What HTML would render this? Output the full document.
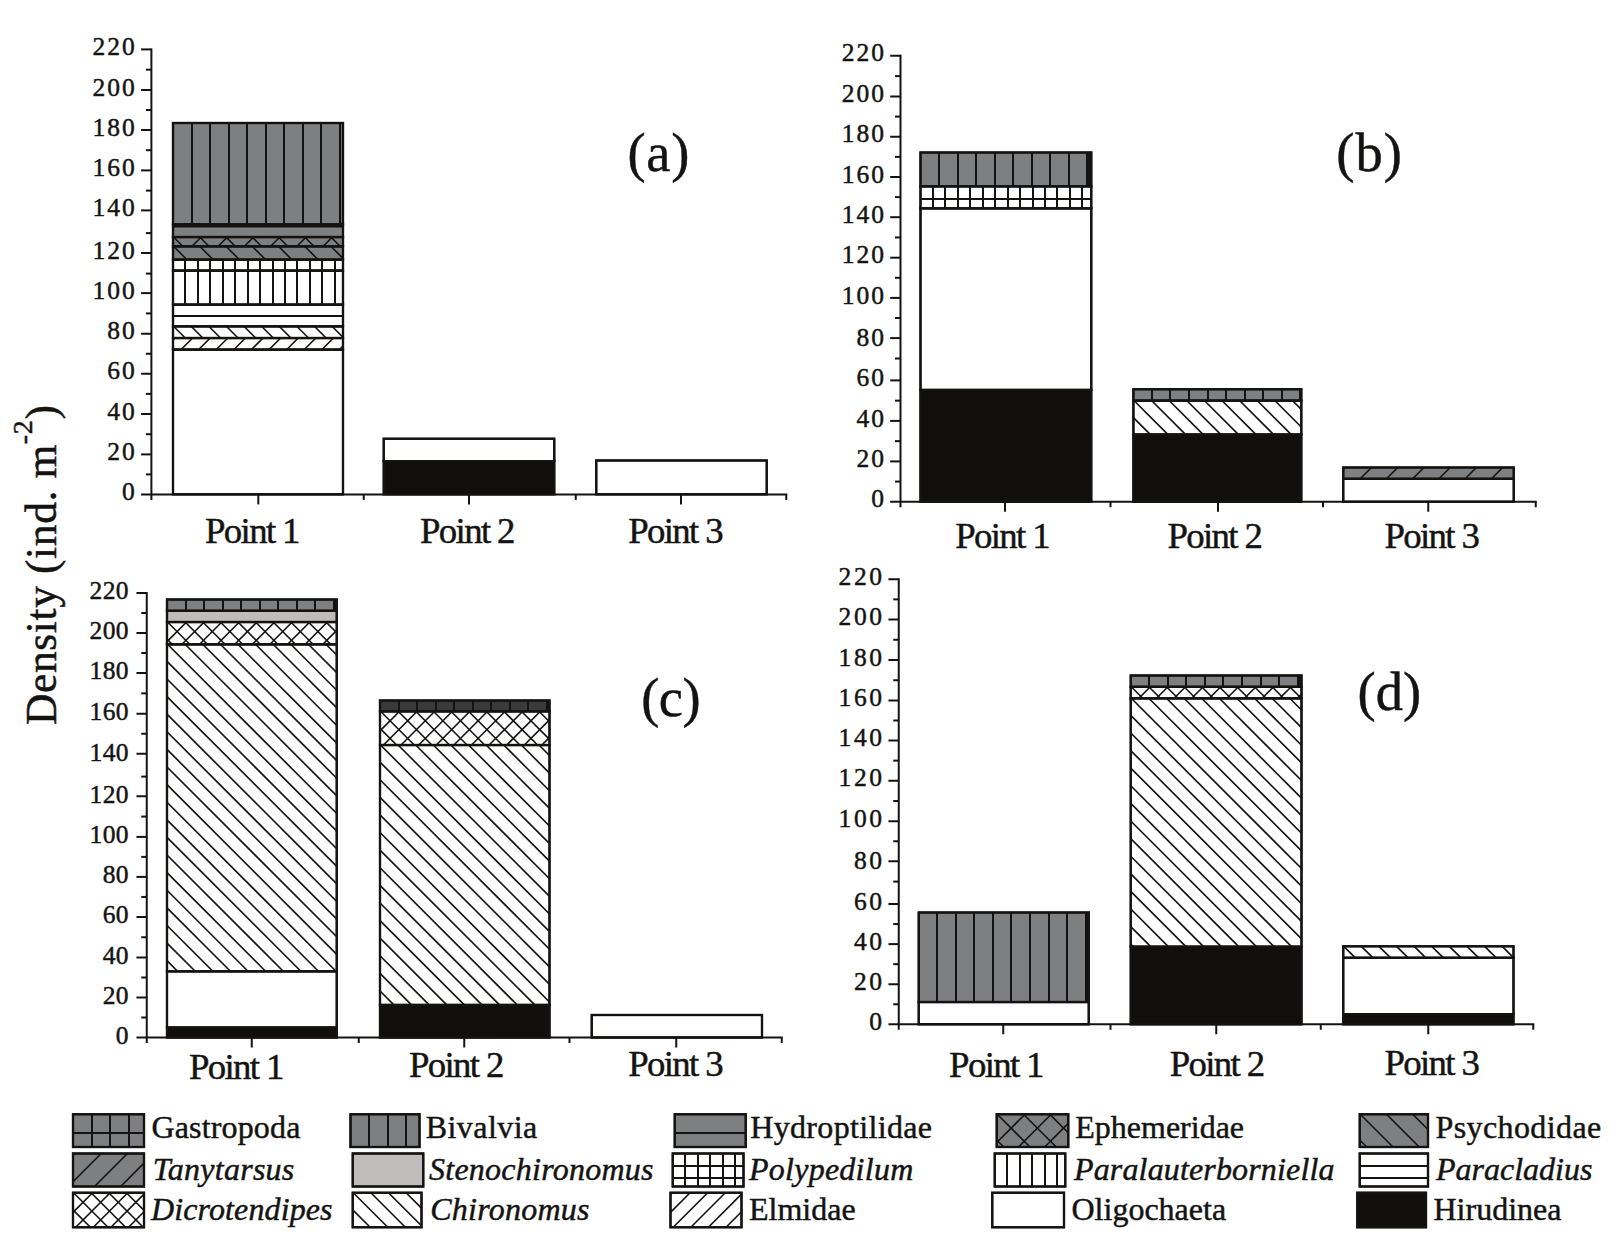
<!DOCTYPE html>
<html lang="en">
<head>
<meta charset="utf-8">
<title>Density of benthic macroinvertebrates</title>
<style>
html,body{margin:0;padding:0;background:#fff;}
svg{display:block;}
text{font-family:"Liberation Serif",serif;fill:#141312;stroke:#141312;stroke-width:0.45px;}
</style>
</head>
<body>
<svg width="1616" height="1248" viewBox="0 0 1616 1248">
<rect x="0" y="0" width="1616" height="1248" fill="#fff"/>
<rect x="173" y="349.5" width="170" height="144.75" fill="#fff" stroke="#141312" stroke-width="2.2"/>
<rect x="173" y="349.5" width="170" height="144.75" fill="none" stroke="#141312" stroke-width="2.2"/>
<rect x="173" y="338" width="170" height="11.5" fill="#fff" stroke="#141312" stroke-width="2.2"/>
<line x1="173" y1="340" x2="175" y2="338" stroke="#141312" stroke-width="1.65"/>
<line x1="181.11" y1="349.5" x2="192.61" y2="338" stroke="#141312" stroke-width="1.65"/>
<line x1="198.71" y1="349.5" x2="210.21" y2="338" stroke="#141312" stroke-width="1.65"/>
<line x1="216.32" y1="349.5" x2="227.82" y2="338" stroke="#141312" stroke-width="1.65"/>
<line x1="233.93" y1="349.5" x2="245.43" y2="338" stroke="#141312" stroke-width="1.65"/>
<line x1="251.53" y1="349.5" x2="263.03" y2="338" stroke="#141312" stroke-width="1.65"/>
<line x1="269.14" y1="349.5" x2="280.64" y2="338" stroke="#141312" stroke-width="1.65"/>
<line x1="286.75" y1="349.5" x2="298.25" y2="338" stroke="#141312" stroke-width="1.65"/>
<line x1="304.36" y1="349.5" x2="315.86" y2="338" stroke="#141312" stroke-width="1.65"/>
<line x1="321.96" y1="349.5" x2="333.46" y2="338" stroke="#141312" stroke-width="1.65"/>
<line x1="339.57" y1="349.5" x2="343" y2="346.07" stroke="#141312" stroke-width="1.65"/>
<rect x="173" y="338" width="170" height="11.5" fill="none" stroke="#141312" stroke-width="2.2"/>
<rect x="173" y="326.25" width="170" height="11.75" fill="#fff" stroke="#141312" stroke-width="2.2"/>
<line x1="331.96" y1="326.25" x2="343" y2="337.29" stroke="#141312" stroke-width="1.65"/>
<line x1="314.36" y1="326.25" x2="326.11" y2="338" stroke="#141312" stroke-width="1.65"/>
<line x1="296.75" y1="326.25" x2="308.5" y2="338" stroke="#141312" stroke-width="1.65"/>
<line x1="279.14" y1="326.25" x2="290.89" y2="338" stroke="#141312" stroke-width="1.65"/>
<line x1="261.53" y1="326.25" x2="273.28" y2="338" stroke="#141312" stroke-width="1.65"/>
<line x1="243.93" y1="326.25" x2="255.68" y2="338" stroke="#141312" stroke-width="1.65"/>
<line x1="226.32" y1="326.25" x2="238.07" y2="338" stroke="#141312" stroke-width="1.65"/>
<line x1="208.71" y1="326.25" x2="220.46" y2="338" stroke="#141312" stroke-width="1.65"/>
<line x1="191.11" y1="326.25" x2="202.86" y2="338" stroke="#141312" stroke-width="1.65"/>
<line x1="173.5" y1="326.25" x2="185.25" y2="338" stroke="#141312" stroke-width="1.65"/>
<rect x="173" y="326.25" width="170" height="11.75" fill="none" stroke="#141312" stroke-width="2.2"/>
<rect x="173" y="304.5" width="170" height="21.75" fill="#fff" stroke="#141312" stroke-width="2.2"/>
<line x1="173" y1="316" x2="343" y2="316" stroke="#141312" stroke-width="2"/>
<rect x="173" y="304.5" width="170" height="21.75" fill="none" stroke="#141312" stroke-width="2.2"/>
<rect x="173" y="270.5" width="170" height="34" fill="#fff" stroke="#141312" stroke-width="2.2"/>
<line x1="185" y1="270.5" x2="185" y2="304.5" stroke="#141312" stroke-width="2"/>
<line x1="198" y1="270.5" x2="198" y2="304.5" stroke="#141312" stroke-width="2"/>
<line x1="210" y1="270.5" x2="210" y2="304.5" stroke="#141312" stroke-width="2"/>
<line x1="223" y1="270.5" x2="223" y2="304.5" stroke="#141312" stroke-width="2"/>
<line x1="235" y1="270.5" x2="235" y2="304.5" stroke="#141312" stroke-width="2"/>
<line x1="248" y1="270.5" x2="248" y2="304.5" stroke="#141312" stroke-width="2"/>
<line x1="260" y1="270.5" x2="260" y2="304.5" stroke="#141312" stroke-width="2"/>
<line x1="273" y1="270.5" x2="273" y2="304.5" stroke="#141312" stroke-width="2"/>
<line x1="285" y1="270.5" x2="285" y2="304.5" stroke="#141312" stroke-width="2"/>
<line x1="297" y1="270.5" x2="297" y2="304.5" stroke="#141312" stroke-width="2"/>
<line x1="310" y1="270.5" x2="310" y2="304.5" stroke="#141312" stroke-width="2"/>
<line x1="322" y1="270.5" x2="322" y2="304.5" stroke="#141312" stroke-width="2"/>
<line x1="335" y1="270.5" x2="335" y2="304.5" stroke="#141312" stroke-width="2"/>
<rect x="173" y="270.5" width="170" height="34" fill="none" stroke="#141312" stroke-width="2.2"/>
<rect x="173" y="259.5" width="170" height="11" fill="#fff" stroke="#141312" stroke-width="2.2"/>
<line x1="185" y1="259.5" x2="185" y2="270.5" stroke="#141312" stroke-width="2"/>
<line x1="198" y1="259.5" x2="198" y2="270.5" stroke="#141312" stroke-width="2"/>
<line x1="210" y1="259.5" x2="210" y2="270.5" stroke="#141312" stroke-width="2"/>
<line x1="223" y1="259.5" x2="223" y2="270.5" stroke="#141312" stroke-width="2"/>
<line x1="235" y1="259.5" x2="235" y2="270.5" stroke="#141312" stroke-width="2"/>
<line x1="248" y1="259.5" x2="248" y2="270.5" stroke="#141312" stroke-width="2"/>
<line x1="260" y1="259.5" x2="260" y2="270.5" stroke="#141312" stroke-width="2"/>
<line x1="273" y1="259.5" x2="273" y2="270.5" stroke="#141312" stroke-width="2"/>
<line x1="285" y1="259.5" x2="285" y2="270.5" stroke="#141312" stroke-width="2"/>
<line x1="297" y1="259.5" x2="297" y2="270.5" stroke="#141312" stroke-width="2"/>
<line x1="310" y1="259.5" x2="310" y2="270.5" stroke="#141312" stroke-width="2"/>
<line x1="322" y1="259.5" x2="322" y2="270.5" stroke="#141312" stroke-width="2"/>
<line x1="335" y1="259.5" x2="335" y2="270.5" stroke="#141312" stroke-width="2"/>
<rect x="173" y="259.5" width="170" height="11" fill="none" stroke="#141312" stroke-width="2.2"/>
<rect x="173" y="246.25" width="170" height="13.25" fill="#7e7f81" stroke="#141312" stroke-width="2.2"/>
<line x1="330.9" y1="246.25" x2="343" y2="258.35" stroke="#141312" stroke-width="1.65"/>
<line x1="304.67" y1="246.25" x2="317.92" y2="259.5" stroke="#141312" stroke-width="1.65"/>
<line x1="278.43" y1="246.25" x2="291.68" y2="259.5" stroke="#141312" stroke-width="1.65"/>
<line x1="252.2" y1="246.25" x2="265.45" y2="259.5" stroke="#141312" stroke-width="1.65"/>
<line x1="225.97" y1="246.25" x2="239.22" y2="259.5" stroke="#141312" stroke-width="1.65"/>
<line x1="199.73" y1="246.25" x2="212.98" y2="259.5" stroke="#141312" stroke-width="1.65"/>
<line x1="173.5" y1="246.25" x2="186.75" y2="259.5" stroke="#141312" stroke-width="1.65"/>
<rect x="173" y="246.25" width="170" height="13.25" fill="none" stroke="#141312" stroke-width="2.2"/>
<rect x="173" y="237" width="170" height="9.25" fill="#7e7f81" stroke="#141312" stroke-width="2.2"/>
<line x1="330.9" y1="237" x2="340.15" y2="246.25" stroke="#141312" stroke-width="1.65"/>
<line x1="304.67" y1="237" x2="313.92" y2="246.25" stroke="#141312" stroke-width="1.65"/>
<line x1="278.43" y1="237" x2="287.68" y2="246.25" stroke="#141312" stroke-width="1.65"/>
<line x1="252.2" y1="237" x2="261.45" y2="246.25" stroke="#141312" stroke-width="1.65"/>
<line x1="225.97" y1="237" x2="235.22" y2="246.25" stroke="#141312" stroke-width="1.65"/>
<line x1="199.73" y1="237" x2="208.98" y2="246.25" stroke="#141312" stroke-width="1.65"/>
<line x1="173.5" y1="237" x2="182.75" y2="246.25" stroke="#141312" stroke-width="1.65"/>
<line x1="173" y1="239" x2="175" y2="237" stroke="#141312" stroke-width="1.65"/>
<line x1="191.98" y1="246.25" x2="201.23" y2="237" stroke="#141312" stroke-width="1.65"/>
<line x1="218.22" y1="246.25" x2="227.47" y2="237" stroke="#141312" stroke-width="1.65"/>
<line x1="244.45" y1="246.25" x2="253.7" y2="237" stroke="#141312" stroke-width="1.65"/>
<line x1="270.68" y1="246.25" x2="279.93" y2="237" stroke="#141312" stroke-width="1.65"/>
<line x1="296.92" y1="246.25" x2="306.17" y2="237" stroke="#141312" stroke-width="1.65"/>
<line x1="323.15" y1="246.25" x2="332.4" y2="237" stroke="#141312" stroke-width="1.65"/>
<rect x="173" y="237" width="170" height="9.25" fill="none" stroke="#141312" stroke-width="2.2"/>
<rect x="173" y="224.5" width="170" height="12.5" fill="#7e7f81" stroke="#141312" stroke-width="2.2"/>
<rect x="173" y="224.5" width="170" height="12.5" fill="none" stroke="#141312" stroke-width="2.2"/>
<rect x="173" y="123" width="170" height="101.5" fill="#7e7f81" stroke="#141312" stroke-width="2.2"/>
<line x1="192" y1="123" x2="192" y2="224.5" stroke="#141312" stroke-width="2"/>
<line x1="210" y1="123" x2="210" y2="224.5" stroke="#141312" stroke-width="2"/>
<line x1="229" y1="123" x2="229" y2="224.5" stroke="#141312" stroke-width="2"/>
<line x1="247" y1="123" x2="247" y2="224.5" stroke="#141312" stroke-width="2"/>
<line x1="266" y1="123" x2="266" y2="224.5" stroke="#141312" stroke-width="2"/>
<line x1="284" y1="123" x2="284" y2="224.5" stroke="#141312" stroke-width="2"/>
<line x1="303" y1="123" x2="303" y2="224.5" stroke="#141312" stroke-width="2"/>
<line x1="321" y1="123" x2="321" y2="224.5" stroke="#141312" stroke-width="2"/>
<line x1="340" y1="123" x2="340" y2="224.5" stroke="#141312" stroke-width="2"/>
<rect x="173" y="123" width="170" height="101.5" fill="none" stroke="#141312" stroke-width="2.2"/>
<line x1="172" y1="225.3" x2="344" y2="225.3" stroke="#141312" stroke-width="4.2"/>
<rect x="383.75" y="438.75" width="170.5" height="22.35" fill="#fff" stroke="#141312" stroke-width="2.2"/>
<rect x="383.75" y="438.75" width="170.5" height="22.35" fill="none" stroke="#141312" stroke-width="2.2"/>
<rect x="383.75" y="461.1" width="170.5" height="33.15" fill="#100f0d" stroke="#141312" stroke-width="2.2"/>
<rect x="383.75" y="461.1" width="170.5" height="33.15" fill="none" stroke="#141312" stroke-width="2.2"/>
<rect x="596.25" y="460.5" width="170.5" height="33.75" fill="#fff" stroke="#141312" stroke-width="2.2"/>
<rect x="596.25" y="460.5" width="170.5" height="33.75" fill="none" stroke="#141312" stroke-width="2.2"/>
<line x1="151.4" y1="48.4" x2="151.4" y2="499.9" stroke="#141312" stroke-width="2"/>
<line x1="141.1" y1="494.4" x2="787.25" y2="494.4" stroke="#141312" stroke-width="2"/>
<text x="136.65" y="500.1" font-size="25.5" text-anchor="end" letter-spacing="2">0</text>
<line x1="141.1" y1="454.4" x2="151.4" y2="454.4" stroke="#141312" stroke-width="2"/>
<line x1="145.9" y1="474.4" x2="151.4" y2="474.4" stroke="#141312" stroke-width="2"/>
<text x="136.65" y="460.1" font-size="25.5" text-anchor="end" letter-spacing="2">20</text>
<line x1="141.1" y1="414" x2="151.4" y2="414" stroke="#141312" stroke-width="2"/>
<line x1="145.9" y1="434.2" x2="151.4" y2="434.2" stroke="#141312" stroke-width="2"/>
<text x="136.65" y="419.7" font-size="25.5" text-anchor="end" letter-spacing="2">40</text>
<line x1="141.1" y1="373.75" x2="151.4" y2="373.75" stroke="#141312" stroke-width="2"/>
<line x1="145.9" y1="393.88" x2="151.4" y2="393.88" stroke="#141312" stroke-width="2"/>
<text x="136.65" y="379.45" font-size="25.5" text-anchor="end" letter-spacing="2">60</text>
<line x1="141.1" y1="333.75" x2="151.4" y2="333.75" stroke="#141312" stroke-width="2"/>
<line x1="145.9" y1="353.75" x2="151.4" y2="353.75" stroke="#141312" stroke-width="2"/>
<text x="136.65" y="339.45" font-size="25.5" text-anchor="end" letter-spacing="2">80</text>
<line x1="141.1" y1="293.1" x2="151.4" y2="293.1" stroke="#141312" stroke-width="2"/>
<line x1="145.9" y1="313.43" x2="151.4" y2="313.43" stroke="#141312" stroke-width="2"/>
<text x="136.65" y="298.8" font-size="25.5" text-anchor="end" letter-spacing="2">100</text>
<line x1="141.1" y1="253" x2="151.4" y2="253" stroke="#141312" stroke-width="2"/>
<line x1="145.9" y1="273.6" x2="151.4" y2="273.6" stroke="#141312" stroke-width="2"/>
<text x="136.65" y="258.7" font-size="25.5" text-anchor="end" letter-spacing="2">120</text>
<line x1="141.1" y1="210.4" x2="151.4" y2="210.4" stroke="#141312" stroke-width="2"/>
<line x1="145.9" y1="233.1" x2="151.4" y2="233.1" stroke="#141312" stroke-width="2"/>
<text x="136.65" y="216.1" font-size="25.5" text-anchor="end" letter-spacing="2">140</text>
<line x1="141.1" y1="170.4" x2="151.4" y2="170.4" stroke="#141312" stroke-width="2"/>
<line x1="145.9" y1="190.6" x2="151.4" y2="190.6" stroke="#141312" stroke-width="2"/>
<text x="136.65" y="176.1" font-size="25.5" text-anchor="end" letter-spacing="2">160</text>
<line x1="141.1" y1="130" x2="151.4" y2="130" stroke="#141312" stroke-width="2"/>
<line x1="145.9" y1="150.2" x2="151.4" y2="150.2" stroke="#141312" stroke-width="2"/>
<text x="136.65" y="135.7" font-size="25.5" text-anchor="end" letter-spacing="2">180</text>
<line x1="141.1" y1="90" x2="151.4" y2="90" stroke="#141312" stroke-width="2"/>
<line x1="145.9" y1="110" x2="151.4" y2="110" stroke="#141312" stroke-width="2"/>
<text x="136.65" y="95.7" font-size="25.5" text-anchor="end" letter-spacing="2">200</text>
<line x1="141.1" y1="49.4" x2="151.4" y2="49.4" stroke="#141312" stroke-width="2"/>
<line x1="145.9" y1="69.7" x2="151.4" y2="69.7" stroke="#141312" stroke-width="2"/>
<text x="136.65" y="55.1" font-size="25.5" text-anchor="end" letter-spacing="2">220</text>
<line x1="258.3" y1="494.4" x2="258.3" y2="504.4" stroke="#141312" stroke-width="2"/>
<line x1="363.75" y1="494.4" x2="363.75" y2="499.9" stroke="#141312" stroke-width="2"/>
<line x1="469" y1="494.4" x2="469" y2="504.4" stroke="#141312" stroke-width="2"/>
<line x1="575.75" y1="494.4" x2="575.75" y2="499.9" stroke="#141312" stroke-width="2"/>
<line x1="681" y1="494.4" x2="681" y2="504.4" stroke="#141312" stroke-width="2"/>
<line x1="786.25" y1="494.4" x2="786.25" y2="499.9" stroke="#141312" stroke-width="2"/>
<text x="205" y="543.1" font-size="36.8" letter-spacing="-1.65">Point 1</text>
<text x="420" y="543.1" font-size="36.8" letter-spacing="-1.65">Point 2</text>
<text x="628.15" y="542.7" font-size="36.8" letter-spacing="-1.65">Point 3</text>
<text x="627.5" y="171.25" font-size="54.5" letter-spacing="0.7">(a)</text>
<rect x="920.5" y="389.9" width="170.75" height="111.85" fill="#100f0d" stroke="#141312" stroke-width="2.2"/>
<rect x="920.5" y="389.9" width="170.75" height="111.85" fill="none" stroke="#141312" stroke-width="2.2"/>
<rect x="920.5" y="208.25" width="170.75" height="181.65" fill="#fff" stroke="#141312" stroke-width="2.2"/>
<rect x="920.5" y="208.25" width="170.75" height="181.65" fill="none" stroke="#141312" stroke-width="2.2"/>
<rect x="920.5" y="186.25" width="170.75" height="22" fill="#fff" stroke="#141312" stroke-width="2.2"/>
<line x1="933" y1="186.25" x2="933" y2="208.25" stroke="#141312" stroke-width="2"/>
<line x1="945" y1="186.25" x2="945" y2="208.25" stroke="#141312" stroke-width="2"/>
<line x1="958" y1="186.25" x2="958" y2="208.25" stroke="#141312" stroke-width="2"/>
<line x1="970" y1="186.25" x2="970" y2="208.25" stroke="#141312" stroke-width="2"/>
<line x1="983" y1="186.25" x2="983" y2="208.25" stroke="#141312" stroke-width="2"/>
<line x1="995" y1="186.25" x2="995" y2="208.25" stroke="#141312" stroke-width="2"/>
<line x1="1008" y1="186.25" x2="1008" y2="208.25" stroke="#141312" stroke-width="2"/>
<line x1="1020" y1="186.25" x2="1020" y2="208.25" stroke="#141312" stroke-width="2"/>
<line x1="1033" y1="186.25" x2="1033" y2="208.25" stroke="#141312" stroke-width="2"/>
<line x1="1045" y1="186.25" x2="1045" y2="208.25" stroke="#141312" stroke-width="2"/>
<line x1="1057" y1="186.25" x2="1057" y2="208.25" stroke="#141312" stroke-width="2"/>
<line x1="1070" y1="186.25" x2="1070" y2="208.25" stroke="#141312" stroke-width="2"/>
<line x1="1082" y1="186.25" x2="1082" y2="208.25" stroke="#141312" stroke-width="2"/>
<line x1="920.5" y1="199" x2="1091.25" y2="199" stroke="#141312" stroke-width="2"/>
<rect x="920.5" y="186.25" width="170.75" height="22" fill="none" stroke="#141312" stroke-width="2.2"/>
<rect x="920.5" y="152.5" width="170.75" height="33.75" fill="#7e7f81" stroke="#141312" stroke-width="2.2"/>
<line x1="939" y1="152.5" x2="939" y2="186.25" stroke="#141312" stroke-width="2"/>
<line x1="958" y1="152.5" x2="958" y2="186.25" stroke="#141312" stroke-width="2"/>
<line x1="976" y1="152.5" x2="976" y2="186.25" stroke="#141312" stroke-width="2"/>
<line x1="995" y1="152.5" x2="995" y2="186.25" stroke="#141312" stroke-width="2"/>
<line x1="1013" y1="152.5" x2="1013" y2="186.25" stroke="#141312" stroke-width="2"/>
<line x1="1032" y1="152.5" x2="1032" y2="186.25" stroke="#141312" stroke-width="2"/>
<line x1="1050" y1="152.5" x2="1050" y2="186.25" stroke="#141312" stroke-width="2"/>
<line x1="1069" y1="152.5" x2="1069" y2="186.25" stroke="#141312" stroke-width="2"/>
<line x1="1087" y1="152.5" x2="1087" y2="186.25" stroke="#141312" stroke-width="2"/>
<line x1="1089.35" y1="152.5" x2="1089.35" y2="186.25" stroke="#141312" stroke-width="3.8"/>
<rect x="920.5" y="152.5" width="170.75" height="33.75" fill="none" stroke="#141312" stroke-width="2.2"/>
<rect x="1133.4" y="434.4" width="167.9" height="67.35" fill="#100f0d" stroke="#141312" stroke-width="2.2"/>
<rect x="1133.4" y="434.4" width="167.9" height="67.35" fill="none" stroke="#141312" stroke-width="2.2"/>
<rect x="1133.4" y="400.5" width="167.9" height="33.9" fill="#fff" stroke="#141312" stroke-width="2.2"/>
<line x1="1292.36" y1="400.5" x2="1301.3" y2="409.44" stroke="#141312" stroke-width="1.65"/>
<line x1="1274.76" y1="400.5" x2="1301.3" y2="427.04" stroke="#141312" stroke-width="1.65"/>
<line x1="1257.15" y1="400.5" x2="1291.05" y2="434.4" stroke="#141312" stroke-width="1.65"/>
<line x1="1239.54" y1="400.5" x2="1273.44" y2="434.4" stroke="#141312" stroke-width="1.65"/>
<line x1="1221.93" y1="400.5" x2="1255.83" y2="434.4" stroke="#141312" stroke-width="1.65"/>
<line x1="1204.33" y1="400.5" x2="1238.23" y2="434.4" stroke="#141312" stroke-width="1.65"/>
<line x1="1186.72" y1="400.5" x2="1220.62" y2="434.4" stroke="#141312" stroke-width="1.65"/>
<line x1="1169.11" y1="400.5" x2="1203.01" y2="434.4" stroke="#141312" stroke-width="1.65"/>
<line x1="1151.51" y1="400.5" x2="1185.41" y2="434.4" stroke="#141312" stroke-width="1.65"/>
<line x1="1133.9" y1="400.5" x2="1167.8" y2="434.4" stroke="#141312" stroke-width="1.65"/>
<line x1="1133.4" y1="417.61" x2="1150.19" y2="434.4" stroke="#141312" stroke-width="1.65"/>
<rect x="1133.4" y="400.5" width="167.9" height="33.9" fill="none" stroke="#141312" stroke-width="2.2"/>
<rect x="1133.4" y="389.25" width="167.9" height="11.25" fill="#7e7f81" stroke="#141312" stroke-width="2.2"/>
<line x1="1152" y1="389.25" x2="1152" y2="400.5" stroke="#141312" stroke-width="2"/>
<line x1="1170" y1="389.25" x2="1170" y2="400.5" stroke="#141312" stroke-width="2"/>
<line x1="1189" y1="389.25" x2="1189" y2="400.5" stroke="#141312" stroke-width="2"/>
<line x1="1208" y1="389.25" x2="1208" y2="400.5" stroke="#141312" stroke-width="2"/>
<line x1="1226" y1="389.25" x2="1226" y2="400.5" stroke="#141312" stroke-width="2"/>
<line x1="1245" y1="389.25" x2="1245" y2="400.5" stroke="#141312" stroke-width="2"/>
<line x1="1263" y1="389.25" x2="1263" y2="400.5" stroke="#141312" stroke-width="2"/>
<line x1="1282" y1="389.25" x2="1282" y2="400.5" stroke="#141312" stroke-width="2"/>
<line x1="1300" y1="389.25" x2="1300" y2="400.5" stroke="#141312" stroke-width="2"/>
<line x1="1300.83" y1="389.25" x2="1300.83" y2="400.5" stroke="#141312" stroke-width="0.95"/>
<rect x="1133.4" y="389.25" width="167.9" height="11.25" fill="none" stroke="#141312" stroke-width="2.2"/>
<rect x="1343.25" y="478.75" width="170.5" height="23" fill="#fff" stroke="#141312" stroke-width="2.2"/>
<rect x="1343.25" y="478.75" width="170.5" height="23" fill="none" stroke="#141312" stroke-width="2.2"/>
<rect x="1343.25" y="467.5" width="170.5" height="11.25" fill="#7e7f81" stroke="#141312" stroke-width="2.2"/>
<line x1="1343.25" y1="469.5" x2="1345.25" y2="467.5" stroke="#141312" stroke-width="1.65"/>
<line x1="1360.23" y1="478.75" x2="1371.48" y2="467.5" stroke="#141312" stroke-width="1.65"/>
<line x1="1386.47" y1="478.75" x2="1397.72" y2="467.5" stroke="#141312" stroke-width="1.65"/>
<line x1="1412.7" y1="478.75" x2="1423.95" y2="467.5" stroke="#141312" stroke-width="1.65"/>
<line x1="1438.93" y1="478.75" x2="1450.18" y2="467.5" stroke="#141312" stroke-width="1.65"/>
<line x1="1465.17" y1="478.75" x2="1476.42" y2="467.5" stroke="#141312" stroke-width="1.65"/>
<line x1="1491.4" y1="478.75" x2="1502.65" y2="467.5" stroke="#141312" stroke-width="1.65"/>
<rect x="1343.25" y="467.5" width="170.5" height="11.25" fill="none" stroke="#141312" stroke-width="2.2"/>
<line x1="900.5" y1="54.75" x2="900.5" y2="507.25" stroke="#141312" stroke-width="2"/>
<line x1="890.2" y1="501.75" x2="1536.75" y2="501.75" stroke="#141312" stroke-width="2"/>
<text x="886" y="507.45" font-size="25.5" text-anchor="end" letter-spacing="2">0</text>
<line x1="890.2" y1="461.4" x2="900.5" y2="461.4" stroke="#141312" stroke-width="2"/>
<line x1="895" y1="481.57" x2="900.5" y2="481.57" stroke="#141312" stroke-width="2"/>
<text x="886" y="467.1" font-size="25.5" text-anchor="end" letter-spacing="2">20</text>
<line x1="890.2" y1="420.9" x2="900.5" y2="420.9" stroke="#141312" stroke-width="2"/>
<line x1="895" y1="441.15" x2="900.5" y2="441.15" stroke="#141312" stroke-width="2"/>
<text x="886" y="426.6" font-size="25.5" text-anchor="end" letter-spacing="2">40</text>
<line x1="890.2" y1="380.4" x2="900.5" y2="380.4" stroke="#141312" stroke-width="2"/>
<line x1="895" y1="400.65" x2="900.5" y2="400.65" stroke="#141312" stroke-width="2"/>
<text x="886" y="386.1" font-size="25.5" text-anchor="end" letter-spacing="2">60</text>
<line x1="890.2" y1="338.1" x2="900.5" y2="338.1" stroke="#141312" stroke-width="2"/>
<line x1="895" y1="358.5" x2="900.5" y2="358.5" stroke="#141312" stroke-width="2"/>
<text x="886" y="346.1" font-size="25.5" text-anchor="end" letter-spacing="2">80</text>
<line x1="890.2" y1="297.9" x2="900.5" y2="297.9" stroke="#141312" stroke-width="2"/>
<line x1="895" y1="318" x2="900.5" y2="318" stroke="#141312" stroke-width="2"/>
<text x="886" y="303.6" font-size="25.5" text-anchor="end" letter-spacing="2">100</text>
<line x1="890.2" y1="257.7" x2="900.5" y2="257.7" stroke="#141312" stroke-width="2"/>
<line x1="895" y1="277.8" x2="900.5" y2="277.8" stroke="#141312" stroke-width="2"/>
<text x="886" y="263.4" font-size="25.5" text-anchor="end" letter-spacing="2">120</text>
<line x1="890.2" y1="217.2" x2="900.5" y2="217.2" stroke="#141312" stroke-width="2"/>
<line x1="895" y1="237.45" x2="900.5" y2="237.45" stroke="#141312" stroke-width="2"/>
<text x="886" y="222.9" font-size="25.5" text-anchor="end" letter-spacing="2">140</text>
<line x1="890.2" y1="177" x2="900.5" y2="177" stroke="#141312" stroke-width="2"/>
<line x1="895" y1="197.1" x2="900.5" y2="197.1" stroke="#141312" stroke-width="2"/>
<text x="886" y="182.7" font-size="25.5" text-anchor="end" letter-spacing="2">160</text>
<line x1="890.2" y1="136.75" x2="900.5" y2="136.75" stroke="#141312" stroke-width="2"/>
<line x1="895" y1="156.88" x2="900.5" y2="156.88" stroke="#141312" stroke-width="2"/>
<text x="886" y="142.45" font-size="25.5" text-anchor="end" letter-spacing="2">180</text>
<line x1="890.2" y1="96.5" x2="900.5" y2="96.5" stroke="#141312" stroke-width="2"/>
<line x1="895" y1="116.62" x2="900.5" y2="116.62" stroke="#141312" stroke-width="2"/>
<text x="886" y="102.2" font-size="25.5" text-anchor="end" letter-spacing="2">200</text>
<line x1="890.2" y1="55.75" x2="900.5" y2="55.75" stroke="#141312" stroke-width="2"/>
<line x1="895" y1="76.12" x2="900.5" y2="76.12" stroke="#141312" stroke-width="2"/>
<text x="886" y="61.45" font-size="25.5" text-anchor="end" letter-spacing="2">220</text>
<line x1="1005" y1="501.75" x2="1005" y2="511.75" stroke="#141312" stroke-width="2"/>
<line x1="1110.5" y1="501.75" x2="1110.5" y2="507.25" stroke="#141312" stroke-width="2"/>
<line x1="1218" y1="501.75" x2="1218" y2="511.75" stroke="#141312" stroke-width="2"/>
<line x1="1323" y1="501.75" x2="1323" y2="507.25" stroke="#141312" stroke-width="2"/>
<line x1="1428.25" y1="501.75" x2="1428.25" y2="511.75" stroke="#141312" stroke-width="2"/>
<line x1="1535.75" y1="501.75" x2="1535.75" y2="507.25" stroke="#141312" stroke-width="2"/>
<text x="955.15" y="547.5" font-size="36.8" letter-spacing="-1.65">Point 1</text>
<text x="1167.4" y="547.5" font-size="36.8" letter-spacing="-1.65">Point 2</text>
<text x="1384.4" y="547.5" font-size="36.8" letter-spacing="-1.65">Point 3</text>
<text x="1336.25" y="171.25" font-size="54.5" letter-spacing="1">(b)</text>
<rect x="167" y="1027.4" width="169.75" height="10.1" fill="#100f0d" stroke="#141312" stroke-width="2.2"/>
<rect x="167" y="1027.4" width="169.75" height="10.1" fill="none" stroke="#141312" stroke-width="2.2"/>
<rect x="167" y="971.25" width="169.75" height="56.15" fill="#fff" stroke="#141312" stroke-width="2.2"/>
<rect x="167" y="971.25" width="169.75" height="56.15" fill="none" stroke="#141312" stroke-width="2.2"/>
<rect x="167" y="644.25" width="169.75" height="327" fill="#fff" stroke="#141312" stroke-width="2.2"/>
<line x1="325.96" y1="644.25" x2="336.75" y2="655.04" stroke="#141312" stroke-width="1.65"/>
<line x1="308.36" y1="644.25" x2="336.75" y2="672.64" stroke="#141312" stroke-width="1.65"/>
<line x1="290.75" y1="644.25" x2="336.75" y2="690.25" stroke="#141312" stroke-width="1.65"/>
<line x1="273.14" y1="644.25" x2="336.75" y2="707.86" stroke="#141312" stroke-width="1.65"/>
<line x1="255.53" y1="644.25" x2="336.75" y2="725.47" stroke="#141312" stroke-width="1.65"/>
<line x1="237.93" y1="644.25" x2="336.75" y2="743.07" stroke="#141312" stroke-width="1.65"/>
<line x1="220.32" y1="644.25" x2="336.75" y2="760.68" stroke="#141312" stroke-width="1.65"/>
<line x1="202.71" y1="644.25" x2="336.75" y2="778.29" stroke="#141312" stroke-width="1.65"/>
<line x1="185.11" y1="644.25" x2="336.75" y2="795.89" stroke="#141312" stroke-width="1.65"/>
<line x1="167.5" y1="644.25" x2="336.75" y2="813.5" stroke="#141312" stroke-width="1.65"/>
<line x1="167" y1="661.36" x2="336.75" y2="831.11" stroke="#141312" stroke-width="1.65"/>
<line x1="167" y1="678.96" x2="336.75" y2="848.71" stroke="#141312" stroke-width="1.65"/>
<line x1="167" y1="696.57" x2="336.75" y2="866.32" stroke="#141312" stroke-width="1.65"/>
<line x1="167" y1="714.18" x2="336.75" y2="883.93" stroke="#141312" stroke-width="1.65"/>
<line x1="167" y1="731.78" x2="336.75" y2="901.53" stroke="#141312" stroke-width="1.65"/>
<line x1="167" y1="749.39" x2="336.75" y2="919.14" stroke="#141312" stroke-width="1.65"/>
<line x1="167" y1="767" x2="336.75" y2="936.75" stroke="#141312" stroke-width="1.65"/>
<line x1="167" y1="784.61" x2="336.75" y2="954.36" stroke="#141312" stroke-width="1.65"/>
<line x1="167" y1="802.21" x2="336.04" y2="971.25" stroke="#141312" stroke-width="1.65"/>
<line x1="167" y1="819.82" x2="318.43" y2="971.25" stroke="#141312" stroke-width="1.65"/>
<line x1="167" y1="837.43" x2="300.82" y2="971.25" stroke="#141312" stroke-width="1.65"/>
<line x1="167" y1="855.03" x2="283.22" y2="971.25" stroke="#141312" stroke-width="1.65"/>
<line x1="167" y1="872.64" x2="265.61" y2="971.25" stroke="#141312" stroke-width="1.65"/>
<line x1="167" y1="890.25" x2="248" y2="971.25" stroke="#141312" stroke-width="1.65"/>
<line x1="167" y1="907.85" x2="230.4" y2="971.25" stroke="#141312" stroke-width="1.65"/>
<line x1="167" y1="925.46" x2="212.79" y2="971.25" stroke="#141312" stroke-width="1.65"/>
<line x1="167" y1="943.07" x2="195.18" y2="971.25" stroke="#141312" stroke-width="1.65"/>
<line x1="167" y1="960.68" x2="177.57" y2="971.25" stroke="#141312" stroke-width="1.65"/>
<rect x="167" y="644.25" width="169.75" height="327" fill="none" stroke="#141312" stroke-width="2.2"/>
<rect x="167" y="622" width="169.75" height="22.25" fill="#fff" stroke="#141312" stroke-width="2.2"/>
<line x1="325.96" y1="622" x2="336.75" y2="632.79" stroke="#141312" stroke-width="1.65"/>
<line x1="308.36" y1="622" x2="330.61" y2="644.25" stroke="#141312" stroke-width="1.65"/>
<line x1="290.75" y1="622" x2="313" y2="644.25" stroke="#141312" stroke-width="1.65"/>
<line x1="273.14" y1="622" x2="295.39" y2="644.25" stroke="#141312" stroke-width="1.65"/>
<line x1="255.53" y1="622" x2="277.78" y2="644.25" stroke="#141312" stroke-width="1.65"/>
<line x1="237.93" y1="622" x2="260.18" y2="644.25" stroke="#141312" stroke-width="1.65"/>
<line x1="220.32" y1="622" x2="242.57" y2="644.25" stroke="#141312" stroke-width="1.65"/>
<line x1="202.71" y1="622" x2="224.96" y2="644.25" stroke="#141312" stroke-width="1.65"/>
<line x1="185.11" y1="622" x2="207.36" y2="644.25" stroke="#141312" stroke-width="1.65"/>
<line x1="167.5" y1="622" x2="189.75" y2="644.25" stroke="#141312" stroke-width="1.65"/>
<line x1="167" y1="639.11" x2="172.14" y2="644.25" stroke="#141312" stroke-width="1.65"/>
<line x1="167" y1="624" x2="169" y2="622" stroke="#141312" stroke-width="1.65"/>
<line x1="167" y1="641.61" x2="186.61" y2="622" stroke="#141312" stroke-width="1.65"/>
<line x1="181.96" y1="644.25" x2="204.21" y2="622" stroke="#141312" stroke-width="1.65"/>
<line x1="199.57" y1="644.25" x2="221.82" y2="622" stroke="#141312" stroke-width="1.65"/>
<line x1="217.18" y1="644.25" x2="239.43" y2="622" stroke="#141312" stroke-width="1.65"/>
<line x1="234.78" y1="644.25" x2="257.03" y2="622" stroke="#141312" stroke-width="1.65"/>
<line x1="252.39" y1="644.25" x2="274.64" y2="622" stroke="#141312" stroke-width="1.65"/>
<line x1="270" y1="644.25" x2="292.25" y2="622" stroke="#141312" stroke-width="1.65"/>
<line x1="287.61" y1="644.25" x2="309.86" y2="622" stroke="#141312" stroke-width="1.65"/>
<line x1="305.21" y1="644.25" x2="327.46" y2="622" stroke="#141312" stroke-width="1.65"/>
<line x1="322.82" y1="644.25" x2="336.75" y2="630.32" stroke="#141312" stroke-width="1.65"/>
<rect x="167" y="622" width="169.75" height="22.25" fill="none" stroke="#141312" stroke-width="2.2"/>
<rect x="167" y="610.75" width="169.75" height="11.25" fill="#bebdbb" stroke="#141312" stroke-width="2.2"/>
<rect x="167" y="610.75" width="169.75" height="11.25" fill="none" stroke="#141312" stroke-width="2.2"/>
<rect x="167" y="599.5" width="169.75" height="11.25" fill="#7e7f81" stroke="#141312" stroke-width="2.2"/>
<line x1="186" y1="599.5" x2="186" y2="610.75" stroke="#141312" stroke-width="2"/>
<line x1="204" y1="599.5" x2="204" y2="610.75" stroke="#141312" stroke-width="2"/>
<line x1="223" y1="599.5" x2="223" y2="610.75" stroke="#141312" stroke-width="2"/>
<line x1="241" y1="599.5" x2="241" y2="610.75" stroke="#141312" stroke-width="2"/>
<line x1="260" y1="599.5" x2="260" y2="610.75" stroke="#141312" stroke-width="2"/>
<line x1="278" y1="599.5" x2="278" y2="610.75" stroke="#141312" stroke-width="2"/>
<line x1="297" y1="599.5" x2="297" y2="610.75" stroke="#141312" stroke-width="2"/>
<line x1="315" y1="599.5" x2="315" y2="610.75" stroke="#141312" stroke-width="2"/>
<line x1="334" y1="599.5" x2="334" y2="610.75" stroke="#141312" stroke-width="2"/>
<line x1="335.35" y1="599.5" x2="335.35" y2="610.75" stroke="#141312" stroke-width="2.8"/>
<rect x="167" y="599.5" width="169.75" height="11.25" fill="none" stroke="#141312" stroke-width="2.2"/>
<rect x="380" y="1004.9" width="169.5" height="32.6" fill="#100f0d" stroke="#141312" stroke-width="2.2"/>
<rect x="380" y="1004.9" width="169.5" height="32.6" fill="none" stroke="#141312" stroke-width="2.2"/>
<rect x="380" y="745" width="169.5" height="259.9" fill="#fff" stroke="#141312" stroke-width="2.2"/>
<line x1="538.96" y1="745" x2="549.5" y2="755.54" stroke="#141312" stroke-width="1.65"/>
<line x1="521.36" y1="745" x2="549.5" y2="773.14" stroke="#141312" stroke-width="1.65"/>
<line x1="503.75" y1="745" x2="549.5" y2="790.75" stroke="#141312" stroke-width="1.65"/>
<line x1="486.14" y1="745" x2="549.5" y2="808.36" stroke="#141312" stroke-width="1.65"/>
<line x1="468.53" y1="745" x2="549.5" y2="825.97" stroke="#141312" stroke-width="1.65"/>
<line x1="450.93" y1="745" x2="549.5" y2="843.57" stroke="#141312" stroke-width="1.65"/>
<line x1="433.32" y1="745" x2="549.5" y2="861.18" stroke="#141312" stroke-width="1.65"/>
<line x1="415.71" y1="745" x2="549.5" y2="878.79" stroke="#141312" stroke-width="1.65"/>
<line x1="398.11" y1="745" x2="549.5" y2="896.39" stroke="#141312" stroke-width="1.65"/>
<line x1="380.5" y1="745" x2="549.5" y2="914" stroke="#141312" stroke-width="1.65"/>
<line x1="380" y1="762.11" x2="549.5" y2="931.61" stroke="#141312" stroke-width="1.65"/>
<line x1="380" y1="779.71" x2="549.5" y2="949.21" stroke="#141312" stroke-width="1.65"/>
<line x1="380" y1="797.32" x2="549.5" y2="966.82" stroke="#141312" stroke-width="1.65"/>
<line x1="380" y1="814.93" x2="549.5" y2="984.43" stroke="#141312" stroke-width="1.65"/>
<line x1="380" y1="832.53" x2="549.5" y2="1002.03" stroke="#141312" stroke-width="1.65"/>
<line x1="380" y1="850.14" x2="534.76" y2="1004.9" stroke="#141312" stroke-width="1.65"/>
<line x1="380" y1="867.75" x2="517.15" y2="1004.9" stroke="#141312" stroke-width="1.65"/>
<line x1="380" y1="885.36" x2="499.54" y2="1004.9" stroke="#141312" stroke-width="1.65"/>
<line x1="380" y1="902.96" x2="481.94" y2="1004.9" stroke="#141312" stroke-width="1.65"/>
<line x1="380" y1="920.57" x2="464.33" y2="1004.9" stroke="#141312" stroke-width="1.65"/>
<line x1="380" y1="938.18" x2="446.72" y2="1004.9" stroke="#141312" stroke-width="1.65"/>
<line x1="380" y1="955.78" x2="429.12" y2="1004.9" stroke="#141312" stroke-width="1.65"/>
<line x1="380" y1="973.39" x2="411.51" y2="1004.9" stroke="#141312" stroke-width="1.65"/>
<line x1="380" y1="991" x2="393.9" y2="1004.9" stroke="#141312" stroke-width="1.65"/>
<rect x="380" y="745" width="169.5" height="259.9" fill="none" stroke="#141312" stroke-width="2.2"/>
<rect x="380" y="711.25" width="169.5" height="33.75" fill="#fff" stroke="#141312" stroke-width="2.2"/>
<line x1="538.96" y1="711.25" x2="549.5" y2="721.79" stroke="#141312" stroke-width="1.65"/>
<line x1="521.36" y1="711.25" x2="549.5" y2="739.39" stroke="#141312" stroke-width="1.65"/>
<line x1="503.75" y1="711.25" x2="537.5" y2="745" stroke="#141312" stroke-width="1.65"/>
<line x1="486.14" y1="711.25" x2="519.89" y2="745" stroke="#141312" stroke-width="1.65"/>
<line x1="468.53" y1="711.25" x2="502.28" y2="745" stroke="#141312" stroke-width="1.65"/>
<line x1="450.93" y1="711.25" x2="484.68" y2="745" stroke="#141312" stroke-width="1.65"/>
<line x1="433.32" y1="711.25" x2="467.07" y2="745" stroke="#141312" stroke-width="1.65"/>
<line x1="415.71" y1="711.25" x2="449.46" y2="745" stroke="#141312" stroke-width="1.65"/>
<line x1="398.11" y1="711.25" x2="431.86" y2="745" stroke="#141312" stroke-width="1.65"/>
<line x1="380.5" y1="711.25" x2="414.25" y2="745" stroke="#141312" stroke-width="1.65"/>
<line x1="380" y1="728.36" x2="396.64" y2="745" stroke="#141312" stroke-width="1.65"/>
<line x1="380" y1="713.25" x2="382" y2="711.25" stroke="#141312" stroke-width="1.65"/>
<line x1="380" y1="730.86" x2="399.61" y2="711.25" stroke="#141312" stroke-width="1.65"/>
<line x1="383.46" y1="745" x2="417.21" y2="711.25" stroke="#141312" stroke-width="1.65"/>
<line x1="401.07" y1="745" x2="434.82" y2="711.25" stroke="#141312" stroke-width="1.65"/>
<line x1="418.68" y1="745" x2="452.43" y2="711.25" stroke="#141312" stroke-width="1.65"/>
<line x1="436.28" y1="745" x2="470.03" y2="711.25" stroke="#141312" stroke-width="1.65"/>
<line x1="453.89" y1="745" x2="487.64" y2="711.25" stroke="#141312" stroke-width="1.65"/>
<line x1="471.5" y1="745" x2="505.25" y2="711.25" stroke="#141312" stroke-width="1.65"/>
<line x1="489.11" y1="745" x2="522.86" y2="711.25" stroke="#141312" stroke-width="1.65"/>
<line x1="506.71" y1="745" x2="540.46" y2="711.25" stroke="#141312" stroke-width="1.65"/>
<line x1="524.32" y1="745" x2="549.5" y2="719.82" stroke="#141312" stroke-width="1.65"/>
<line x1="541.93" y1="745" x2="549.5" y2="737.43" stroke="#141312" stroke-width="1.65"/>
<rect x="380" y="711.25" width="169.5" height="33.75" fill="none" stroke="#141312" stroke-width="2.2"/>
<rect x="380" y="700.5" width="169.5" height="10.75" fill="#3a3a3a" stroke="#141312" stroke-width="2.2"/>
<line x1="399" y1="700.5" x2="399" y2="711.25" stroke="#141312" stroke-width="2"/>
<line x1="417" y1="700.5" x2="417" y2="711.25" stroke="#141312" stroke-width="2"/>
<line x1="436" y1="700.5" x2="436" y2="711.25" stroke="#141312" stroke-width="2"/>
<line x1="454" y1="700.5" x2="454" y2="711.25" stroke="#141312" stroke-width="2"/>
<line x1="473" y1="700.5" x2="473" y2="711.25" stroke="#141312" stroke-width="2"/>
<line x1="491" y1="700.5" x2="491" y2="711.25" stroke="#141312" stroke-width="2"/>
<line x1="510" y1="700.5" x2="510" y2="711.25" stroke="#141312" stroke-width="2"/>
<line x1="528" y1="700.5" x2="528" y2="711.25" stroke="#141312" stroke-width="2"/>
<line x1="547" y1="700.5" x2="547" y2="711.25" stroke="#141312" stroke-width="2"/>
<line x1="548.23" y1="700.5" x2="548.23" y2="711.25" stroke="#141312" stroke-width="2.55"/>
<rect x="380" y="700.5" width="169.5" height="10.75" fill="none" stroke="#141312" stroke-width="2.2"/>
<rect x="591.75" y="1015" width="170.25" height="22.5" fill="#fff" stroke="#141312" stroke-width="2.2"/>
<rect x="591.75" y="1015" width="170.25" height="22.5" fill="none" stroke="#141312" stroke-width="2.2"/>
<line x1="146.75" y1="592" x2="146.75" y2="1043" stroke="#141312" stroke-width="2"/>
<line x1="136.45" y1="1037.5" x2="782.75" y2="1037.5" stroke="#141312" stroke-width="2"/>
<text x="129" y="1043.8" font-size="25.5" text-anchor="end" letter-spacing="0.4">0</text>
<line x1="136.45" y1="997.5" x2="146.75" y2="997.5" stroke="#141312" stroke-width="2"/>
<line x1="141.25" y1="1017.5" x2="146.75" y2="1017.5" stroke="#141312" stroke-width="2"/>
<text x="129" y="1003.8" font-size="25.5" text-anchor="end" letter-spacing="0.4">20</text>
<line x1="136.45" y1="957.5" x2="146.75" y2="957.5" stroke="#141312" stroke-width="2"/>
<line x1="141.25" y1="977.5" x2="146.75" y2="977.5" stroke="#141312" stroke-width="2"/>
<text x="129" y="963.8" font-size="25.5" text-anchor="end" letter-spacing="0.4">40</text>
<line x1="136.45" y1="917" x2="146.75" y2="917" stroke="#141312" stroke-width="2"/>
<line x1="141.25" y1="937.25" x2="146.75" y2="937.25" stroke="#141312" stroke-width="2"/>
<text x="129" y="923.3" font-size="25.5" text-anchor="end" letter-spacing="0.4">60</text>
<line x1="136.45" y1="876.9" x2="146.75" y2="876.9" stroke="#141312" stroke-width="2"/>
<line x1="141.25" y1="896.95" x2="146.75" y2="896.95" stroke="#141312" stroke-width="2"/>
<text x="129" y="883.2" font-size="25.5" text-anchor="end" letter-spacing="0.4">80</text>
<line x1="136.45" y1="836.9" x2="146.75" y2="836.9" stroke="#141312" stroke-width="2"/>
<line x1="141.25" y1="856.9" x2="146.75" y2="856.9" stroke="#141312" stroke-width="2"/>
<text x="129" y="843.2" font-size="25.5" text-anchor="end" letter-spacing="0.4">100</text>
<line x1="136.45" y1="796.25" x2="146.75" y2="796.25" stroke="#141312" stroke-width="2"/>
<line x1="141.25" y1="816.58" x2="146.75" y2="816.58" stroke="#141312" stroke-width="2"/>
<text x="129" y="802.55" font-size="25.5" text-anchor="end" letter-spacing="0.4">120</text>
<line x1="136.45" y1="753.75" x2="146.75" y2="753.75" stroke="#141312" stroke-width="2"/>
<line x1="141.25" y1="776.6" x2="146.75" y2="776.6" stroke="#141312" stroke-width="2"/>
<text x="129" y="761.45" font-size="25.5" text-anchor="end" letter-spacing="0.4">140</text>
<line x1="136.45" y1="713.75" x2="146.75" y2="713.75" stroke="#141312" stroke-width="2"/>
<line x1="141.25" y1="733.75" x2="146.75" y2="733.75" stroke="#141312" stroke-width="2"/>
<text x="129" y="720.05" font-size="25.5" text-anchor="end" letter-spacing="0.4">160</text>
<line x1="136.45" y1="673" x2="146.75" y2="673" stroke="#141312" stroke-width="2"/>
<line x1="141.25" y1="693.38" x2="146.75" y2="693.38" stroke="#141312" stroke-width="2"/>
<text x="129" y="679.3" font-size="25.5" text-anchor="end" letter-spacing="0.4">180</text>
<line x1="136.45" y1="633" x2="146.75" y2="633" stroke="#141312" stroke-width="2"/>
<line x1="141.25" y1="653" x2="146.75" y2="653" stroke="#141312" stroke-width="2"/>
<text x="129" y="639.3" font-size="25.5" text-anchor="end" letter-spacing="0.4">200</text>
<line x1="136.45" y1="593" x2="146.75" y2="593" stroke="#141312" stroke-width="2"/>
<line x1="141.25" y1="613" x2="146.75" y2="613" stroke="#141312" stroke-width="2"/>
<text x="129" y="599.3" font-size="25.5" text-anchor="end" letter-spacing="0.4">220</text>
<line x1="251.75" y1="1037.5" x2="251.75" y2="1047.5" stroke="#141312" stroke-width="2"/>
<line x1="358.75" y1="1037.5" x2="358.75" y2="1043" stroke="#141312" stroke-width="2"/>
<line x1="464.25" y1="1037.5" x2="464.25" y2="1047.5" stroke="#141312" stroke-width="2"/>
<line x1="569.5" y1="1037.5" x2="569.5" y2="1043" stroke="#141312" stroke-width="2"/>
<line x1="676.25" y1="1037.5" x2="676.25" y2="1047.5" stroke="#141312" stroke-width="2"/>
<line x1="781.75" y1="1037.5" x2="781.75" y2="1043" stroke="#141312" stroke-width="2"/>
<text x="188.9" y="1079.3" font-size="36.8" letter-spacing="-1.65">Point 1</text>
<text x="408.9" y="1076.75" font-size="36.8" letter-spacing="-1.65">Point 2</text>
<text x="628.15" y="1076.2" font-size="36.8" letter-spacing="-1.65">Point 3</text>
<text x="641.25" y="716.4" font-size="54.5" letter-spacing="-0.6">(c)</text>
<rect x="918.75" y="1002" width="170" height="22.25" fill="#fff" stroke="#141312" stroke-width="2.2"/>
<rect x="918.75" y="1002" width="170" height="22.25" fill="none" stroke="#141312" stroke-width="2.2"/>
<rect x="918.75" y="912.5" width="170" height="89.5" fill="#7e7f81" stroke="#141312" stroke-width="2.2"/>
<line x1="937" y1="912.5" x2="937" y2="1002" stroke="#141312" stroke-width="2"/>
<line x1="956" y1="912.5" x2="956" y2="1002" stroke="#141312" stroke-width="2"/>
<line x1="974" y1="912.5" x2="974" y2="1002" stroke="#141312" stroke-width="2"/>
<line x1="993" y1="912.5" x2="993" y2="1002" stroke="#141312" stroke-width="2"/>
<line x1="1011" y1="912.5" x2="1011" y2="1002" stroke="#141312" stroke-width="2"/>
<line x1="1030" y1="912.5" x2="1030" y2="1002" stroke="#141312" stroke-width="2"/>
<line x1="1049" y1="912.5" x2="1049" y2="1002" stroke="#141312" stroke-width="2"/>
<line x1="1067" y1="912.5" x2="1067" y2="1002" stroke="#141312" stroke-width="2"/>
<line x1="1086" y1="912.5" x2="1086" y2="1002" stroke="#141312" stroke-width="2"/>
<line x1="1087.22" y1="912.5" x2="1087.22" y2="1002" stroke="#141312" stroke-width="3.05"/>
<rect x="918.75" y="912.5" width="170" height="89.5" fill="none" stroke="#141312" stroke-width="2.2"/>
<rect x="1130.75" y="946.6" width="170.75" height="77.65" fill="#100f0d" stroke="#141312" stroke-width="2.2"/>
<rect x="1130.75" y="946.6" width="170.75" height="77.65" fill="none" stroke="#141312" stroke-width="2.2"/>
<rect x="1130.75" y="698.25" width="170.75" height="248.35" fill="#fff" stroke="#141312" stroke-width="2.2"/>
<line x1="1289.71" y1="698.25" x2="1301.5" y2="710.04" stroke="#141312" stroke-width="1.65"/>
<line x1="1272.11" y1="698.25" x2="1301.5" y2="727.64" stroke="#141312" stroke-width="1.65"/>
<line x1="1254.5" y1="698.25" x2="1301.5" y2="745.25" stroke="#141312" stroke-width="1.65"/>
<line x1="1236.89" y1="698.25" x2="1301.5" y2="762.86" stroke="#141312" stroke-width="1.65"/>
<line x1="1219.28" y1="698.25" x2="1301.5" y2="780.47" stroke="#141312" stroke-width="1.65"/>
<line x1="1201.68" y1="698.25" x2="1301.5" y2="798.07" stroke="#141312" stroke-width="1.65"/>
<line x1="1184.07" y1="698.25" x2="1301.5" y2="815.68" stroke="#141312" stroke-width="1.65"/>
<line x1="1166.46" y1="698.25" x2="1301.5" y2="833.29" stroke="#141312" stroke-width="1.65"/>
<line x1="1148.86" y1="698.25" x2="1301.5" y2="850.89" stroke="#141312" stroke-width="1.65"/>
<line x1="1131.25" y1="698.25" x2="1301.5" y2="868.5" stroke="#141312" stroke-width="1.65"/>
<line x1="1130.75" y1="715.36" x2="1301.5" y2="886.11" stroke="#141312" stroke-width="1.65"/>
<line x1="1130.75" y1="732.96" x2="1301.5" y2="903.71" stroke="#141312" stroke-width="1.65"/>
<line x1="1130.75" y1="750.57" x2="1301.5" y2="921.32" stroke="#141312" stroke-width="1.65"/>
<line x1="1130.75" y1="768.18" x2="1301.5" y2="938.93" stroke="#141312" stroke-width="1.65"/>
<line x1="1130.75" y1="785.78" x2="1291.57" y2="946.6" stroke="#141312" stroke-width="1.65"/>
<line x1="1130.75" y1="803.39" x2="1273.96" y2="946.6" stroke="#141312" stroke-width="1.65"/>
<line x1="1130.75" y1="821" x2="1256.35" y2="946.6" stroke="#141312" stroke-width="1.65"/>
<line x1="1130.75" y1="838.61" x2="1238.74" y2="946.6" stroke="#141312" stroke-width="1.65"/>
<line x1="1130.75" y1="856.21" x2="1221.14" y2="946.6" stroke="#141312" stroke-width="1.65"/>
<line x1="1130.75" y1="873.82" x2="1203.53" y2="946.6" stroke="#141312" stroke-width="1.65"/>
<line x1="1130.75" y1="891.43" x2="1185.92" y2="946.6" stroke="#141312" stroke-width="1.65"/>
<line x1="1130.75" y1="909.03" x2="1168.32" y2="946.6" stroke="#141312" stroke-width="1.65"/>
<line x1="1130.75" y1="926.64" x2="1150.71" y2="946.6" stroke="#141312" stroke-width="1.65"/>
<line x1="1130.75" y1="944.25" x2="1133.1" y2="946.6" stroke="#141312" stroke-width="1.65"/>
<rect x="1130.75" y="698.25" width="170.75" height="248.35" fill="none" stroke="#141312" stroke-width="2.2"/>
<rect x="1130.75" y="686.75" width="170.75" height="11.5" fill="#fff" stroke="#141312" stroke-width="2.2"/>
<line x1="1289.71" y1="686.75" x2="1301.21" y2="698.25" stroke="#141312" stroke-width="1.65"/>
<line x1="1272.11" y1="686.75" x2="1283.61" y2="698.25" stroke="#141312" stroke-width="1.65"/>
<line x1="1254.5" y1="686.75" x2="1266" y2="698.25" stroke="#141312" stroke-width="1.65"/>
<line x1="1236.89" y1="686.75" x2="1248.39" y2="698.25" stroke="#141312" stroke-width="1.65"/>
<line x1="1219.28" y1="686.75" x2="1230.78" y2="698.25" stroke="#141312" stroke-width="1.65"/>
<line x1="1201.68" y1="686.75" x2="1213.18" y2="698.25" stroke="#141312" stroke-width="1.65"/>
<line x1="1184.07" y1="686.75" x2="1195.57" y2="698.25" stroke="#141312" stroke-width="1.65"/>
<line x1="1166.46" y1="686.75" x2="1177.96" y2="698.25" stroke="#141312" stroke-width="1.65"/>
<line x1="1148.86" y1="686.75" x2="1160.36" y2="698.25" stroke="#141312" stroke-width="1.65"/>
<line x1="1131.25" y1="686.75" x2="1142.75" y2="698.25" stroke="#141312" stroke-width="1.65"/>
<line x1="1130.75" y1="688.75" x2="1132.75" y2="686.75" stroke="#141312" stroke-width="1.65"/>
<line x1="1138.86" y1="698.25" x2="1150.36" y2="686.75" stroke="#141312" stroke-width="1.65"/>
<line x1="1156.46" y1="698.25" x2="1167.96" y2="686.75" stroke="#141312" stroke-width="1.65"/>
<line x1="1174.07" y1="698.25" x2="1185.57" y2="686.75" stroke="#141312" stroke-width="1.65"/>
<line x1="1191.68" y1="698.25" x2="1203.18" y2="686.75" stroke="#141312" stroke-width="1.65"/>
<line x1="1209.28" y1="698.25" x2="1220.78" y2="686.75" stroke="#141312" stroke-width="1.65"/>
<line x1="1226.89" y1="698.25" x2="1238.39" y2="686.75" stroke="#141312" stroke-width="1.65"/>
<line x1="1244.5" y1="698.25" x2="1256" y2="686.75" stroke="#141312" stroke-width="1.65"/>
<line x1="1262.11" y1="698.25" x2="1273.61" y2="686.75" stroke="#141312" stroke-width="1.65"/>
<line x1="1279.71" y1="698.25" x2="1291.21" y2="686.75" stroke="#141312" stroke-width="1.65"/>
<line x1="1297.32" y1="698.25" x2="1301.5" y2="694.07" stroke="#141312" stroke-width="1.65"/>
<rect x="1130.75" y="686.75" width="170.75" height="11.5" fill="none" stroke="#141312" stroke-width="2.2"/>
<rect x="1130.75" y="675.5" width="170.75" height="11.25" fill="#7e7f81" stroke="#141312" stroke-width="2.2"/>
<line x1="1149" y1="675.5" x2="1149" y2="686.75" stroke="#141312" stroke-width="2"/>
<line x1="1168" y1="675.5" x2="1168" y2="686.75" stroke="#141312" stroke-width="2"/>
<line x1="1186" y1="675.5" x2="1186" y2="686.75" stroke="#141312" stroke-width="2"/>
<line x1="1205" y1="675.5" x2="1205" y2="686.75" stroke="#141312" stroke-width="2"/>
<line x1="1223" y1="675.5" x2="1223" y2="686.75" stroke="#141312" stroke-width="2"/>
<line x1="1242" y1="675.5" x2="1242" y2="686.75" stroke="#141312" stroke-width="2"/>
<line x1="1261" y1="675.5" x2="1261" y2="686.75" stroke="#141312" stroke-width="2"/>
<line x1="1279" y1="675.5" x2="1279" y2="686.75" stroke="#141312" stroke-width="2"/>
<line x1="1298" y1="675.5" x2="1298" y2="686.75" stroke="#141312" stroke-width="2"/>
<line x1="1299.6" y1="675.5" x2="1299.6" y2="686.75" stroke="#141312" stroke-width="3.8"/>
<rect x="1130.75" y="675.5" width="170.75" height="11.25" fill="none" stroke="#141312" stroke-width="2.2"/>
<rect x="1343.25" y="1014.1" width="170.25" height="10.15" fill="#100f0d" stroke="#141312" stroke-width="2.2"/>
<rect x="1343.25" y="1014.1" width="170.25" height="10.15" fill="none" stroke="#141312" stroke-width="2.2"/>
<rect x="1343.25" y="957.7" width="170.25" height="56.4" fill="#fff" stroke="#141312" stroke-width="2.2"/>
<rect x="1343.25" y="957.7" width="170.25" height="56.4" fill="none" stroke="#141312" stroke-width="2.2"/>
<rect x="1343.25" y="946.3" width="170.25" height="11.4" fill="#fff" stroke="#141312" stroke-width="2.2"/>
<line x1="1502.21" y1="946.3" x2="1513.5" y2="957.59" stroke="#141312" stroke-width="1.65"/>
<line x1="1484.61" y1="946.3" x2="1496.01" y2="957.7" stroke="#141312" stroke-width="1.65"/>
<line x1="1467" y1="946.3" x2="1478.4" y2="957.7" stroke="#141312" stroke-width="1.65"/>
<line x1="1449.39" y1="946.3" x2="1460.79" y2="957.7" stroke="#141312" stroke-width="1.65"/>
<line x1="1431.78" y1="946.3" x2="1443.18" y2="957.7" stroke="#141312" stroke-width="1.65"/>
<line x1="1414.18" y1="946.3" x2="1425.58" y2="957.7" stroke="#141312" stroke-width="1.65"/>
<line x1="1396.57" y1="946.3" x2="1407.97" y2="957.7" stroke="#141312" stroke-width="1.65"/>
<line x1="1378.96" y1="946.3" x2="1390.36" y2="957.7" stroke="#141312" stroke-width="1.65"/>
<line x1="1361.36" y1="946.3" x2="1372.76" y2="957.7" stroke="#141312" stroke-width="1.65"/>
<line x1="1343.75" y1="946.3" x2="1355.15" y2="957.7" stroke="#141312" stroke-width="1.65"/>
<rect x="1343.25" y="946.3" width="170.25" height="11.4" fill="none" stroke="#141312" stroke-width="2.2"/>
<line x1="898.75" y1="578.25" x2="898.75" y2="1029.75" stroke="#141312" stroke-width="2"/>
<line x1="888.45" y1="1024.25" x2="1534.25" y2="1024.25" stroke="#141312" stroke-width="2"/>
<text x="884.6" y="1029.95" font-size="25.5" text-anchor="end" letter-spacing="2.6">0</text>
<line x1="888.45" y1="984.25" x2="898.75" y2="984.25" stroke="#141312" stroke-width="2"/>
<line x1="893.25" y1="1004.25" x2="898.75" y2="1004.25" stroke="#141312" stroke-width="2"/>
<text x="884.6" y="989.95" font-size="25.5" text-anchor="end" letter-spacing="2.6">20</text>
<line x1="888.45" y1="944.1" x2="898.75" y2="944.1" stroke="#141312" stroke-width="2"/>
<line x1="893.25" y1="964.17" x2="898.75" y2="964.17" stroke="#141312" stroke-width="2"/>
<text x="884.6" y="949.8" font-size="25.5" text-anchor="end" letter-spacing="2.6">40</text>
<line x1="888.45" y1="904" x2="898.75" y2="904" stroke="#141312" stroke-width="2"/>
<line x1="893.25" y1="924.05" x2="898.75" y2="924.05" stroke="#141312" stroke-width="2"/>
<text x="884.6" y="909.7" font-size="25.5" text-anchor="end" letter-spacing="2.6">60</text>
<line x1="888.45" y1="861.25" x2="898.75" y2="861.25" stroke="#141312" stroke-width="2"/>
<line x1="893.25" y1="881.6" x2="898.75" y2="881.6" stroke="#141312" stroke-width="2"/>
<text x="884.6" y="868.85" font-size="25.5" text-anchor="end" letter-spacing="2.6">80</text>
<line x1="888.45" y1="821.25" x2="898.75" y2="821.25" stroke="#141312" stroke-width="2"/>
<line x1="893.25" y1="841.25" x2="898.75" y2="841.25" stroke="#141312" stroke-width="2"/>
<text x="884.6" y="826.95" font-size="25.5" text-anchor="end" letter-spacing="2.6">100</text>
<line x1="888.45" y1="780.75" x2="898.75" y2="780.75" stroke="#141312" stroke-width="2"/>
<line x1="893.25" y1="801" x2="898.75" y2="801" stroke="#141312" stroke-width="2"/>
<text x="884.6" y="786.45" font-size="25.5" text-anchor="end" letter-spacing="2.6">120</text>
<line x1="888.45" y1="740.5" x2="898.75" y2="740.5" stroke="#141312" stroke-width="2"/>
<line x1="893.25" y1="760.62" x2="898.75" y2="760.62" stroke="#141312" stroke-width="2"/>
<text x="884.6" y="746.2" font-size="25.5" text-anchor="end" letter-spacing="2.6">140</text>
<line x1="888.45" y1="700.5" x2="898.75" y2="700.5" stroke="#141312" stroke-width="2"/>
<line x1="893.25" y1="720.5" x2="898.75" y2="720.5" stroke="#141312" stroke-width="2"/>
<text x="884.6" y="706.2" font-size="25.5" text-anchor="end" letter-spacing="2.6">160</text>
<line x1="888.45" y1="660" x2="898.75" y2="660" stroke="#141312" stroke-width="2"/>
<line x1="893.25" y1="680.25" x2="898.75" y2="680.25" stroke="#141312" stroke-width="2"/>
<text x="884.6" y="665.7" font-size="25.5" text-anchor="end" letter-spacing="2.6">180</text>
<line x1="888.45" y1="619.5" x2="898.75" y2="619.5" stroke="#141312" stroke-width="2"/>
<line x1="893.25" y1="639.75" x2="898.75" y2="639.75" stroke="#141312" stroke-width="2"/>
<text x="884.6" y="625.2" font-size="25.5" text-anchor="end" letter-spacing="2.6">200</text>
<line x1="888.45" y1="579.25" x2="898.75" y2="579.25" stroke="#141312" stroke-width="2"/>
<line x1="893.25" y1="599.38" x2="898.75" y2="599.38" stroke="#141312" stroke-width="2"/>
<text x="884.6" y="584.95" font-size="25.5" text-anchor="end" letter-spacing="2.6">220</text>
<line x1="1003.25" y1="1024.25" x2="1003.25" y2="1034.25" stroke="#141312" stroke-width="2"/>
<line x1="1110.5" y1="1024.25" x2="1110.5" y2="1029.75" stroke="#141312" stroke-width="2"/>
<line x1="1216.25" y1="1024.25" x2="1216.25" y2="1034.25" stroke="#141312" stroke-width="2"/>
<line x1="1320.75" y1="1024.25" x2="1320.75" y2="1029.75" stroke="#141312" stroke-width="2"/>
<line x1="1428.25" y1="1024.25" x2="1428.25" y2="1034.25" stroke="#141312" stroke-width="2"/>
<line x1="1533.25" y1="1024.25" x2="1533.25" y2="1029.75" stroke="#141312" stroke-width="2"/>
<text x="949.1" y="1076.75" font-size="36.8" letter-spacing="-1.65">Point 1</text>
<text x="1169.7" y="1076.25" font-size="36.8" letter-spacing="-1.65">Point 2</text>
<text x="1384.4" y="1075" font-size="36.8" letter-spacing="-1.65">Point 3</text>
<text x="1357.5" y="710" font-size="54.5">(d)</text>
<text transform="translate(55.6 564.75) rotate(-90)" text-anchor="middle" font-size="43.5" letter-spacing="0.6">Density (ind. m<tspan font-size="28" dy="-24">-2</tspan><tspan dy="24">)</tspan></text>
<rect x="73" y="1114.25" width="71" height="32.75" fill="#7e7f81" stroke="#141312" stroke-width="2.2"/>
<line x1="92" y1="1114.25" x2="92" y2="1147" stroke="#141312" stroke-width="2"/>
<line x1="110" y1="1114.25" x2="110" y2="1147" stroke="#141312" stroke-width="2"/>
<line x1="129" y1="1114.25" x2="129" y2="1147" stroke="#141312" stroke-width="2"/>
<line x1="73" y1="1133" x2="144" y2="1133" stroke="#141312" stroke-width="2"/>
<rect x="73" y="1114.25" width="71" height="32.75" fill="none" stroke="#141312" stroke-width="2.2"/>
<text x="151.5" y="1138.25" font-size="32" letter-spacing="0.15">Gastropoda</text>
<rect x="73" y="1153.5" width="71" height="33" fill="#7e7f81" stroke="#141312" stroke-width="2.2"/>
<line x1="73" y1="1155.5" x2="75" y2="1153.5" stroke="#141312" stroke-width="1.65"/>
<line x1="73" y1="1181.73" x2="101.23" y2="1153.5" stroke="#141312" stroke-width="1.65"/>
<line x1="94.47" y1="1186.5" x2="127.47" y2="1153.5" stroke="#141312" stroke-width="1.65"/>
<line x1="120.7" y1="1186.5" x2="144" y2="1163.2" stroke="#141312" stroke-width="1.65"/>
<rect x="73" y="1153.5" width="71" height="33" fill="none" stroke="#141312" stroke-width="2.2"/>
<text x="152.75" y="1179.5" font-size="32" font-style="italic" letter-spacing="0.25">Tanytarsus</text>
<rect x="73" y="1192.75" width="71" height="34.5" fill="#fff" stroke="#141312" stroke-width="2.2"/>
<line x1="126.32" y1="1192.75" x2="144" y2="1210.43" stroke="#141312" stroke-width="1.65"/>
<line x1="108.71" y1="1192.75" x2="143.21" y2="1227.25" stroke="#141312" stroke-width="1.65"/>
<line x1="91.11" y1="1192.75" x2="125.61" y2="1227.25" stroke="#141312" stroke-width="1.65"/>
<line x1="73.5" y1="1192.75" x2="108" y2="1227.25" stroke="#141312" stroke-width="1.65"/>
<line x1="73" y1="1209.86" x2="90.39" y2="1227.25" stroke="#141312" stroke-width="1.65"/>
<line x1="73" y1="1194.75" x2="75" y2="1192.75" stroke="#141312" stroke-width="1.65"/>
<line x1="73" y1="1212.36" x2="92.61" y2="1192.75" stroke="#141312" stroke-width="1.65"/>
<line x1="75.71" y1="1227.25" x2="110.21" y2="1192.75" stroke="#141312" stroke-width="1.65"/>
<line x1="93.32" y1="1227.25" x2="127.82" y2="1192.75" stroke="#141312" stroke-width="1.65"/>
<line x1="110.93" y1="1227.25" x2="144" y2="1194.18" stroke="#141312" stroke-width="1.65"/>
<line x1="128.53" y1="1227.25" x2="144" y2="1211.78" stroke="#141312" stroke-width="1.65"/>
<rect x="73" y="1192.75" width="71" height="34.5" fill="none" stroke="#141312" stroke-width="2.2"/>
<text x="151" y="1219.5" font-size="32" font-style="italic" letter-spacing="0.12">Dicrotendipes</text>
<rect x="350.5" y="1114.25" width="69" height="32.75" fill="#7e7f81" stroke="#141312" stroke-width="2.2"/>
<line x1="369" y1="1114.25" x2="369" y2="1147" stroke="#141312" stroke-width="2"/>
<line x1="388" y1="1114.25" x2="388" y2="1147" stroke="#141312" stroke-width="2"/>
<line x1="406" y1="1114.25" x2="406" y2="1147" stroke="#141312" stroke-width="2"/>
<rect x="350.5" y="1114.25" width="69" height="32.75" fill="none" stroke="#141312" stroke-width="2.2"/>
<text x="425.75" y="1138.25" font-size="32" letter-spacing="0.43">Bivalvia</text>
<rect x="352.75" y="1153.5" width="70.5" height="33" fill="#bebdbb" stroke="#141312" stroke-width="2.2"/>
<rect x="352.75" y="1153.5" width="70.5" height="33" fill="none" stroke="#141312" stroke-width="2.2"/>
<text x="429" y="1179.5" font-size="32" font-style="italic" letter-spacing="0.25">Stenochironomus</text>
<rect x="352.75" y="1192.75" width="68.75" height="34.5" fill="#fff" stroke="#141312" stroke-width="2.2"/>
<line x1="406.07" y1="1192.75" x2="421.5" y2="1208.18" stroke="#141312" stroke-width="1.65"/>
<line x1="388.46" y1="1192.75" x2="421.5" y2="1225.79" stroke="#141312" stroke-width="1.65"/>
<line x1="370.86" y1="1192.75" x2="405.36" y2="1227.25" stroke="#141312" stroke-width="1.65"/>
<line x1="353.25" y1="1192.75" x2="387.75" y2="1227.25" stroke="#141312" stroke-width="1.65"/>
<line x1="352.75" y1="1209.86" x2="370.14" y2="1227.25" stroke="#141312" stroke-width="1.65"/>
<rect x="352.75" y="1192.75" width="68.75" height="34.5" fill="none" stroke="#141312" stroke-width="2.2"/>
<text x="430.25" y="1219.5" font-size="32" font-style="italic" letter-spacing="0.25">Chironomus</text>
<rect x="674.75" y="1114.25" width="71" height="32.75" fill="#7e7f81" stroke="#141312" stroke-width="2.2"/>
<line x1="674.75" y1="1133" x2="745.75" y2="1133" stroke="#141312" stroke-width="2"/>
<rect x="674.75" y="1114.25" width="71" height="32.75" fill="none" stroke="#141312" stroke-width="2.2"/>
<text x="750.25" y="1138.25" font-size="32" letter-spacing="0.33">Hydroptilidae</text>
<rect x="672.75" y="1153.5" width="70.75" height="33" fill="#fff" stroke="#141312" stroke-width="2.2"/>
<line x1="685" y1="1153.5" x2="685" y2="1186.5" stroke="#141312" stroke-width="2"/>
<line x1="698" y1="1153.5" x2="698" y2="1186.5" stroke="#141312" stroke-width="2"/>
<line x1="710" y1="1153.5" x2="710" y2="1186.5" stroke="#141312" stroke-width="2"/>
<line x1="723" y1="1153.5" x2="723" y2="1186.5" stroke="#141312" stroke-width="2"/>
<line x1="735" y1="1153.5" x2="735" y2="1186.5" stroke="#141312" stroke-width="2"/>
<line x1="672.75" y1="1166" x2="743.5" y2="1166" stroke="#141312" stroke-width="2"/>
<line x1="672.75" y1="1178" x2="743.5" y2="1178" stroke="#141312" stroke-width="2"/>
<rect x="672.75" y="1153.5" width="70.75" height="33" fill="none" stroke="#141312" stroke-width="2.2"/>
<text x="749" y="1179.5" font-size="32" font-style="italic" letter-spacing="0.25">Polypedilum</text>
<rect x="670.5" y="1192.75" width="71" height="34.5" fill="#fff" stroke="#141312" stroke-width="2.2"/>
<line x1="670.5" y1="1194.75" x2="672.5" y2="1192.75" stroke="#141312" stroke-width="1.65"/>
<line x1="670.5" y1="1212.36" x2="690.11" y2="1192.75" stroke="#141312" stroke-width="1.65"/>
<line x1="673.21" y1="1227.25" x2="707.71" y2="1192.75" stroke="#141312" stroke-width="1.65"/>
<line x1="690.82" y1="1227.25" x2="725.32" y2="1192.75" stroke="#141312" stroke-width="1.65"/>
<line x1="708.43" y1="1227.25" x2="741.5" y2="1194.18" stroke="#141312" stroke-width="1.65"/>
<line x1="726.03" y1="1227.25" x2="741.5" y2="1211.78" stroke="#141312" stroke-width="1.65"/>
<rect x="670.5" y="1192.75" width="71" height="34.5" fill="none" stroke="#141312" stroke-width="2.2"/>
<text x="749" y="1219.5" font-size="32">Elmidae</text>
<rect x="996.75" y="1114.25" width="71.5" height="32.75" fill="#7e7f81" stroke="#141312" stroke-width="2.2"/>
<line x1="1049.72" y1="1114.25" x2="1068.25" y2="1132.78" stroke="#141312" stroke-width="1.65"/>
<line x1="1023.48" y1="1114.25" x2="1056.23" y2="1147" stroke="#141312" stroke-width="1.65"/>
<line x1="997.25" y1="1114.25" x2="1030" y2="1147" stroke="#141312" stroke-width="1.65"/>
<line x1="996.75" y1="1139.98" x2="1003.77" y2="1147" stroke="#141312" stroke-width="1.65"/>
<line x1="996.75" y1="1116.25" x2="998.75" y2="1114.25" stroke="#141312" stroke-width="1.65"/>
<line x1="996.75" y1="1142.48" x2="1024.98" y2="1114.25" stroke="#141312" stroke-width="1.65"/>
<line x1="1018.47" y1="1147" x2="1051.22" y2="1114.25" stroke="#141312" stroke-width="1.65"/>
<line x1="1044.7" y1="1147" x2="1068.25" y2="1123.45" stroke="#141312" stroke-width="1.65"/>
<rect x="996.75" y="1114.25" width="71.5" height="32.75" fill="none" stroke="#141312" stroke-width="2.2"/>
<text x="1075.25" y="1138.25" font-size="32">Ephemeridae</text>
<rect x="994.75" y="1153.5" width="70.5" height="33" fill="#fff" stroke="#141312" stroke-width="2.2"/>
<line x1="1007" y1="1153.5" x2="1007" y2="1186.5" stroke="#141312" stroke-width="2"/>
<line x1="1020" y1="1153.5" x2="1020" y2="1186.5" stroke="#141312" stroke-width="2"/>
<line x1="1032" y1="1153.5" x2="1032" y2="1186.5" stroke="#141312" stroke-width="2"/>
<line x1="1045" y1="1153.5" x2="1045" y2="1186.5" stroke="#141312" stroke-width="2"/>
<line x1="1057" y1="1153.5" x2="1057" y2="1186.5" stroke="#141312" stroke-width="2"/>
<rect x="994.75" y="1153.5" width="70.5" height="33" fill="none" stroke="#141312" stroke-width="2.2"/>
<text x="1074" y="1179.5" font-size="32" font-style="italic" letter-spacing="0.15">Paralauterborniella</text>
<rect x="992.25" y="1192.75" width="71.75" height="34.5" fill="#fff" stroke="#141312" stroke-width="2.2"/>
<rect x="992.25" y="1192.75" width="71.75" height="34.5" fill="none" stroke="#141312" stroke-width="2.2"/>
<text x="1071.5" y="1219.5" font-size="32">Oligochaeta</text>
<rect x="1359.75" y="1114.25" width="68.25" height="32.75" fill="#7e7f81" stroke="#141312" stroke-width="2.2"/>
<line x1="1412.72" y1="1114.25" x2="1428" y2="1129.53" stroke="#141312" stroke-width="1.65"/>
<line x1="1386.48" y1="1114.25" x2="1419.23" y2="1147" stroke="#141312" stroke-width="1.65"/>
<line x1="1360.25" y1="1114.25" x2="1393" y2="1147" stroke="#141312" stroke-width="1.65"/>
<line x1="1359.75" y1="1139.98" x2="1366.77" y2="1147" stroke="#141312" stroke-width="1.65"/>
<rect x="1359.75" y="1114.25" width="68.25" height="32.75" fill="none" stroke="#141312" stroke-width="2.2"/>
<text x="1435.5" y="1138.25" font-size="32" letter-spacing="0.4">Psychodidae</text>
<rect x="1359.75" y="1153.5" width="68.25" height="33" fill="#fff" stroke="#141312" stroke-width="2.2"/>
<line x1="1359.75" y1="1166" x2="1428" y2="1166" stroke="#141312" stroke-width="2"/>
<line x1="1359.75" y1="1178" x2="1428" y2="1178" stroke="#141312" stroke-width="2"/>
<rect x="1359.75" y="1153.5" width="68.25" height="33" fill="none" stroke="#141312" stroke-width="2.2"/>
<text x="1436" y="1179.5" font-size="32" font-style="italic">Paracladius</text>
<rect x="1357.25" y="1192.75" width="68.75" height="34.5" fill="#100f0d" stroke="#141312" stroke-width="2.2"/>
<rect x="1357.25" y="1192.75" width="68.75" height="34.5" fill="none" stroke="#141312" stroke-width="2.2"/>
<text x="1433.5" y="1219.5" font-size="32">Hirudinea</text>
</svg>
</body>
</html>
